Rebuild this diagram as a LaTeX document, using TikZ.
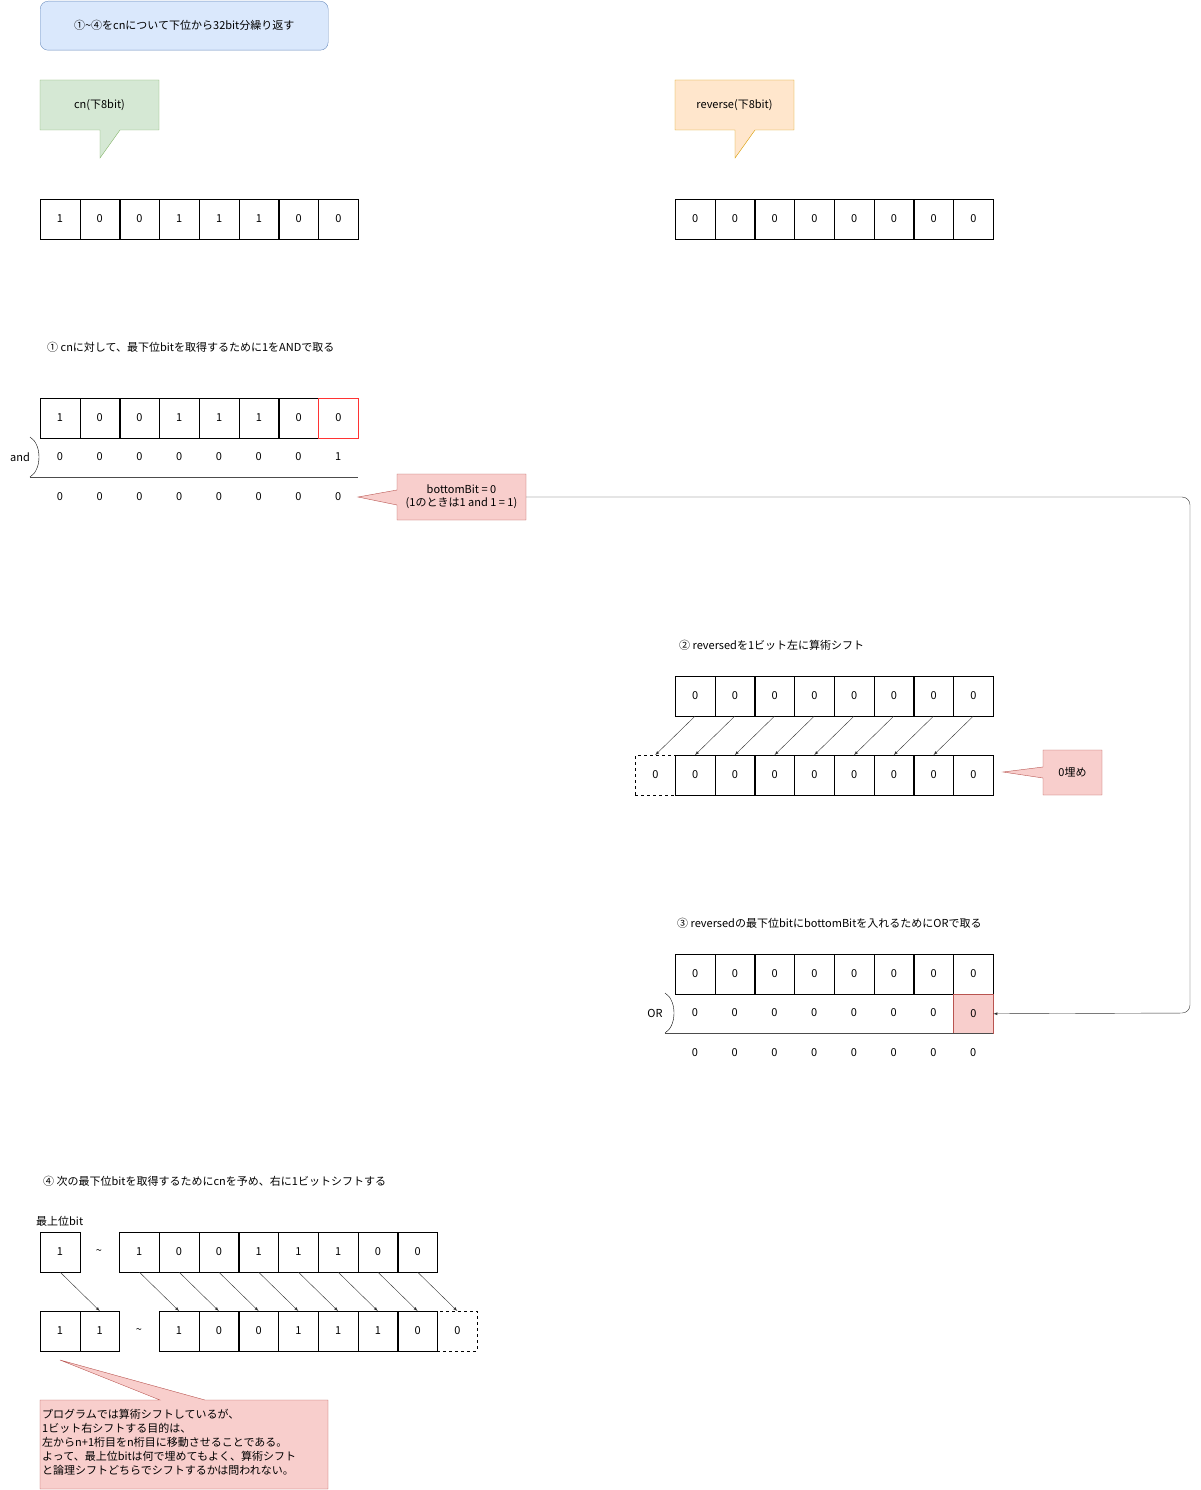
\documentclass[tikz,border=0pt]{standalone}
\usepackage{fontspec}
\setmainfont{Noto Sans CJK JP}
\begin{document}
\begin{tikzpicture}[x=1pt,y=-1pt,font=\fontsize{11}{13}\selectfont,
  cell/.style={draw,minimum width=39.7pt,minimum height=39.7pt,inner sep=0pt,anchor=north west},
  bittext/.style={inner sep=0pt},
  arr/.style={-latex,draw=black!80},
  lbl/.style={anchor=west,inner sep=0pt}]
\definecolor{bfill}{HTML}{DAE8FC}\definecolor{bdraw}{HTML}{6C8EBF}
\definecolor{gfill}{HTML}{D5E8D4}\definecolor{gdraw}{HTML}{82B366}
\definecolor{ofill}{HTML}{FFE6CC}\definecolor{odraw}{HTML}{D79B00}
\definecolor{pfill}{HTML}{F8CECC}\definecolor{pdraw}{HTML}{B85450}
\useasboundingbox (0,0) rectangle (1200,1490);
% title
\node[draw=bdraw,fill=bfill,rounded corners=8pt,minimum width=288pt,minimum height=49pt,anchor=north west] (title) at (40,1) {①\textasciitilde④をcnについて下位から32bit分繰り返す};
% callouts
\draw[draw=gdraw,fill=gfill] (40,80) -- (159,80) -- (159,130) -- (120,130) -- (100,158) -- (100,130) -- (40,130) -- cycle;
\node (cnlbl) at (99.5,105) {cn(下8bit)};
\draw[draw=odraw,fill=ofill] (675,80) -- (794,80) -- (794,130) -- (755,130) -- (735,158) -- (735,130) -- (675,130) -- cycle;
\node (revlbl) at (734.5,105) {reverse(下8bit)};
% rows A,B
\foreach \b [count=\i from 0] in {1,0,0,1,1,1,0,0}
  \node[cell] (a\i) at (40+39.75*\i,199) {\b};
\foreach \i in {0,...,7}
  \node[cell] (b\i) at (675+39.75*\i,199) {0};
% step 1
\node[lbl] (s1) at (47,347) {① cnに対して、最下位bitを取得するために1をANDで取る};
\foreach \b [count=\i from 0] in {1,0,0,1,1,1,0}
  \node[cell] (c\i) at (40+39.75*\i,398) {\b};
\node[cell,draw=red!80] (c7) at (318.25,398) {0};
\foreach \b [count=\i from 0] in {0,0,0,0,0,0,0,1}
  \node[bittext] (m\i) at (60+39.75*\i,457) {\b};
\foreach \i in {0,...,7}
  \node[bittext] (r\i) at (60+39.75*\i,497) {0};
\node[bittext] (andl) at (20,457) {and};
\draw (30,437) .. controls (42,444) and (42,470) .. (30,477);
\draw[black!70] (30,477) -- (358,477);
\draw[draw=pdraw,fill=pfill] (397,474) -- (526,474) -- (526,520) -- (397,520) -- (397,505) -- (358,497) -- (397,490) -- cycle;
\node[align=center,inner sep=0pt] (bb) at (461.5,497) {bottomBit = 0\\(1のときは1 and 1 = 1)};
\coordinate (bbr) at (526,497);
% step 2
\node[lbl] (s2) at (679,645) {② reversedを1ビット左に算術シフト};
\foreach \i in {0,...,7}
  \node[cell] (d\i) at (675+39.75*\i,676) {0};
\node[cell,dashed] (e0) at (635.25,755) {0};
\foreach \i in {1,...,8}
  \node[cell] (e\i) at (635.25+39.75*\i,755) {0};
\foreach \i [evaluate=\i as \j using int(\i)] in {0,...,7}
  \draw[arr] (d\i.south) -- (e\j.north);
\draw[draw=pdraw,fill=pfill] (1043,750) -- (1102,750) -- (1102,795) -- (1043,795) -- (1043,778) -- (1003,772) -- (1043,767) -- cycle;
\node (zf) at (1072.5,772) {0埋め};
% step 3
\node[lbl] (s3) at (677,923) {③ reversedの最下位bitにbottomBitを入れるためにORで取る};
\foreach \i in {0,...,7}
  \node[cell] (f\i) at (675+39.75*\i,954) {0};
\node[cell,draw=pdraw,fill=pfill] (orc) at (953.25,993.7) {0};
\foreach \i in {0,...,6}
  \node[bittext] (o\i) at (695+39.75*\i,1013) {0};
\foreach \i in {0,...,7}
  \node[bittext] (q\i) at (695+39.75*\i,1053) {0};
\node[bittext] (orl) at (655,1013) {OR};
\draw (665,993) .. controls (677,1000) and (677,1026) .. (665,1033);
\draw[black!70] (665,1033) -- (993,1033);
\draw[arr,rounded corners=8pt] (bbr) -- (1190,497) -- (1190,1013) -- (orc.east);
% step 4
\node[lbl] (s4) at (43,1181) {④ 次の最下位bitを取得するためにcnを予め、右に1ビットシフトする};
\node[lbl] (msb) at (36,1221) {最上位bit};
\node[cell] (g0) at (40,1232) {1};
\node[bittext] (gt) at (99,1252) {\textasciitilde};
\foreach \b [count=\i from 1] in {1,0,0,1,1,1,0,0}
  \node[cell] (g\i) at (79.5+39.75*\i,1232) {\b};
\node[cell] (h0) at (40,1311) {1};
\node[cell] (h1) at (79.75,1311) {1};
\node[bittext] (ht) at (139,1331) {\textasciitilde};
\foreach \b [count=\i from 2] in {1,0,0,1,1,1,0}
  \node[cell] (h\i) at (79.5+39.75*\i,1311) {\b};
\node[cell,dashed] (h9) at (437.25,1311) {0};
\draw[arr] (g0.south) -- (h1.north);
\foreach \i [evaluate=\i as \j using int(\i+1)] in {1,...,8}
  \draw[arr] (g\i.south) -- (h\j.north);
\draw[draw=pdraw,fill=pfill] (40,1400) -- (160,1400) -- (60,1360) -- (205,1400) -- (328,1400) -- (328,1489) -- (40,1489) -- cycle;
\node[anchor=north west,align=left,inner sep=0pt,font=\fontsize{11}{14}\selectfont] (note) at (42,1409) {プログラムでは算術シフトしているが、\\1ビット右シフトする目的は、\\左からn+1桁目をn桁目に移動させることである。\\よって、最上位bitは何で埋めてもよく、算術シフト\\と論理シフトどちらでシフトするかは問われない。};
\end{tikzpicture}
\end{document}
